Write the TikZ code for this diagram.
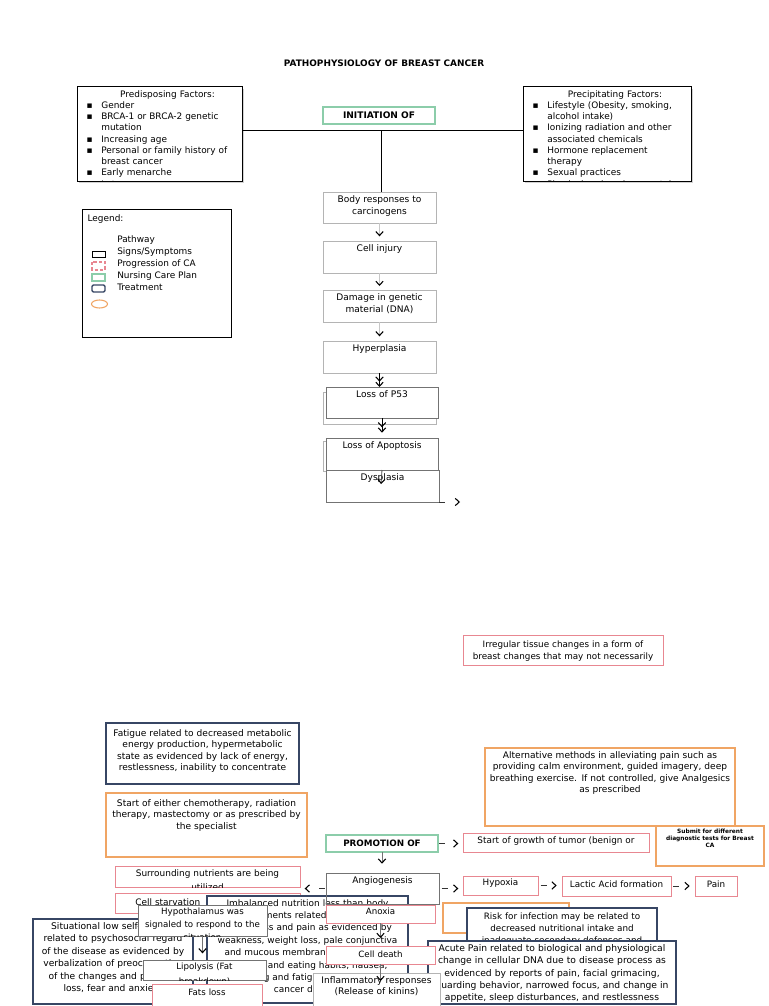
\documentclass[tikz,border=0pt]{standalone}
\usepackage{fontspec}
\setmainfont{DejaVu Sans}
\usetikzlibrary{arrows.meta}
\definecolor{boxgray}{RGB}{180,180,180}
\definecolor{dgray}{RGB}{115,115,115}
\definecolor{boxred}{RGB}{232,135,145}
\definecolor{boxgreen}{RGB}{140,205,170}
\definecolor{boxorange}{RGB}{240,165,100}
\definecolor{navy}{RGB}{55,70,100}
\definecolor{linegray}{RGB}{200,200,200}
\newcommand\fz[2]{\fontsize{#1}{#2}\selectfont}
\newcommand\bul{\hspace*{5pt}\makebox[11pt][l]{▪}}
\newcommand\ind{\hspace*{16pt}}
% box: name, style, x1, y1, x2, y2, text options, text
\newcommand\bx[8]{%
  \pgfmathsetmacro\bxW{(#5-#3)*0.75}%
  \pgfmathsetmacro\bxH{(#6-#4)*0.75}%
  \pgfmathsetmacro\bxT{(#5-#3+10)*0.75}%
  \pgfmathsetmacro\bxC{(#3+#5)/2}%
  \node[anchor=north west, minimum width=\bxW pt, minimum height=\bxH pt,
        inner sep=0pt, outer sep=0pt, #2] (#1) at (#3,#4) {};
  \begin{scope}
    \clip (#3,#4) rectangle (#5,#6);
    \node[anchor=north, inner sep=0pt, align=center, text width=\bxT pt, #7]
      (#1-t) at (\bxC,#4+3) {#8};
  \end{scope}
}
\tikzset{
  base/.style={line width=0.75pt, fill=white},
  gbox/.style={base, draw=boxgray},
  dbox/.style={base, draw=dgray},
  kbox/.style={base, draw=black},
  rbox/.style={base, draw=boxred},
  obox/.style={base, draw=boxorange, line width=1pt},
  nbox/.style={base, draw=navy, line width=1.5pt},
  grbox/.style={base, draw=boxgreen, line width=1pt},
  vtip/.style={-{Straight Barb[length=3pt,width=5.5pt,line width=0.8pt,color=black]}},
  flow/.style={draw=linegray, line width=0.6pt, vtip},
  kflow/.style={draw=black, line width=0.75pt,
    -{Straight Barb[length=3pt,width=5.5pt,line width=0.8pt] Straight Barb[length=3pt,width=5.5pt,line width=0.8pt]}},
  dflow/.style={draw=black!80, line width=0.75pt, dash pattern=on 4.5pt off 10pt, vtip},
}
\begin{document}
\begin{tikzpicture}[x=0.75pt,y=-0.75pt]
\useasboundingbox[fill=white] (0,0) rectangle (768,1006);

\node[font=\bfseries\fz{6.7}{8}] (title) at (384,63) {PATHOPHYSIOLOGY OF BREAST CANCER};

% ---------- top factors ----------
\fill[black!18] (79,89) rectangle (244,183);
\fill[black!18] (525,89) rectangle (693,183);
\bx{pre}{kbox}{77}{87}{242}{181}{font=\fz{6.7}{8.45}, align=left, xshift=6pt}{%
\hfill Predisposing Factors:\hfill\null\\
\bul Gender\\
\bul BRCA-1 or BRCA-2 genetic\\
\ind mutation\\
\bul Increasing age\\
\bul Personal or family history of\\
\ind breast cancer\\
\bul Early menarche\\
\bul Late menopause}
\bx{prec}{kbox}{523}{87}{691}{181}{font=\fz{6.7}{8.45}, align=left, xshift=6pt}{%
\hfill Precipitating Factors:\hfill\null\\
\bul Lifestyle (Obesity, smoking,\\
\ind alcohol intake)\\
\bul Ionizing radiation and other\\
\ind associated chemicals\\
\bul Hormone replacement\\
\ind therapy\\
\bul Sexual practices\\
\bul Physical and environmental}
\bx{init}{grbox}{323}{107}{435}{124}{font=\bfseries\fz{6.8}{8}, yshift=-1.5pt}{INITIATION OF}
\coordinate (j) at (381,130);
\draw[line width=0.75pt] (pre.east |- j) -- (prec.west |- j);

% ---------- legend ----------
\bx{legend}{kbox}{82}{209}{231}{337}{font=\fz{6.7}{9}, align=left, xshift=6pt, yshift=-2pt}{\hspace*{2pt}Legend:}
\node[anchor=north west, align=left, font=\fz{6.7}{9}, inner sep=0pt] (legtxt) at (117,235.5)
  {Pathway\\Signs/Symptoms\\Progression of CA\\Nursing Care Plan\\Treatment};
\draw[black, line width=0.6pt] (92,251) rectangle (105,257);
\draw[boxred, line width=0.8pt, dash pattern=on 2.5pt off 1.5pt] (92,262) rectangle (105,270);
\draw[boxgreen, line width=0.8pt] (92,274) rectangle (105,281);
\draw[navy, line width=1.1pt, rounded corners=1pt] (92,285) rectangle (105,292);
\draw[boxorange, line width=0.8pt] (99.5,304) ellipse (8 and 4);

% ---------- initiation chain ----------
\bx{body}{gbox}{323}{192}{436}{223}{font=\fz{6.8}{9.6}}{Body responses to\\carcinogens}
\bx{inj}{gbox}{323}{241}{436}{273}{font=\fz{6.8}{9.6}}{Cell injury}
\bx{dna}{gbox}{323}{290}{436}{322}{font=\fz{6.8}{9.2}}{Damage in genetic\\material (DNA)}
\bx{hyp}{gbox}{323}{341}{436}{373}{font=\fz{6.8}{9.2}}{Hyperplasia}
\bx{p53b}{gbox}{323}{392}{436}{424}{}{}
\bx{p53}{dbox}{326}{387}{438}{418}{font=\fz{6.8}{9.2}}{Loss of P53}
\bx{apob}{gbox}{323}{441}{436}{471}{}{}
\bx{apo}{dbox}{326}{438}{438}{470}{font=\fz{6.8}{9.2}}{Loss of Apoptosis}
\bx{dys}{dbox}{326}{470}{439}{502}{font=\fz{6.8}{9.2}}{Dysplasia}

\draw[line width=0.75pt] (j) -- (j |- body.north);
\draw[flow, shorten >=3.5pt] (body.south) -- (inj.north);
\draw[flow, shorten >=3pt] (inj.south) -- (dna.north);
\draw[flow, shorten >=3.5pt] (dna.south) -- (hyp.north);
\draw[kflow] (hyp.south) -- (hyp.south |- p53.north);
\draw[kflow, shorten >=4pt] (p53.south) -- (p53.south |- apo.north);
\coordinate (dysin) at (381,484);
\draw[flow, draw=black!70] (apo.south) -- (dysin);
\coordinate (dysout) at (460,502);
\draw[dflow] (dys.south east) -- (dysout);

% ---------- promotion area ----------
\bx{irr}{rbox}{463}{635}{663}{665}{font=\fz{6.6}{8.8}, yshift=-2pt}{Irregular tissue changes in a form of\\breast changes that may not necessarily}
\bx{fat}{nbox}{106}{723}{299}{784}{font=\fz{6.8}{8.6}, yshift=-2.5pt}{Fatigue related to decreased metabolic\\energy production, hypermetabolic\\state as evidenced by lack of energy,\\restlessness, inability to concentrate}
\bx{chemo}{obox}{106}{793}{307}{857}{font=\fz{6.8}{8.6}, yshift=-2.5pt}{Start of either chemotherapy, radiation\\therapy, mastectomy or as prescribed by\\the specialist}
\bx{alt}{obox}{485}{748}{735}{826}{font=\fz{6.8}{8.6}}{Alternative methods in alleviating pain such as\\providing calm environment, guided imagery, deep\\breathing exercise. If not controlled, give Analgesics\\as prescribed}
\bx{submit}{obox}{656}{826}{764}{866}{font=\bfseries\fz{4.4}{5.2}}{Submit for different\\diagnostic tests for Breast\\CA}

\bx{prom}{grbox}{326}{835}{438}{852}{font=\bfseries\fz{6.6}{8}, yshift=-1.5pt}{PROMOTION OF}
\bx{growth}{rbox}{463}{833}{649}{852}{font=\fz{6.65}{8}}{Start of growth of tumor (benign or}
\bx{hypox}{rbox}{463}{876}{538}{895}{font=\fz{6.6}{8}}{Hypoxia}
\bx{lactic}{rbox}{562}{876}{671}{896}{font=\fz{6.6}{8}, yshift=-1pt}{Lactic Acid formation}
\bx{pain}{rbox}{695}{876}{737}{896}{font=\fz{6.6}{8}, yshift=-1pt}{Pain}
\bx{surr}{rbox}{115}{866}{300}{887}{font=\fz{6.7}{11}}{Surrounding nutrients are being\\utilized}
\bx{starv}{rbox}{115}{893}{300}{913}{font=\fz{6.7}{9}, align=left, xshift=6pt, yshift=-2pt}{\hspace*{13pt}Cell starvation}
\bx{orb}{obox}{443}{903}{569}{933}{}{}
\bx{risk}{nbox}{467}{908}{657}{960}{font=\fz{6.6}{9}, yshift=-1pt}{Risk for infection may be related to\\decreased nutritional intake and\\inadequate secondary defenses and\\immunosuppression}
\bx{acute}{nbox}{428}{941}{676}{1004}{font=\fz{6.9}{9.3}}{Acute Pain related to biological and physiological\\change in cellular DNA due to disease process as\\evidenced by reports of pain, facial grimacing,\\guarding behavior, narrowed focus, and change in\\appetite, sleep disturbances, and restlessness}
\bx{imb}{nbox}{207}{896}{408}{1003}{font=\fz{6.7}{9.3}}{Imbalanced nutrition less than body\\requirements related to anorexia,\\weight loss and pain as evidenced by\\weakness, weight loss, pale conjunctiva\\and mucous membranes, changes in\\appetite and eating habits, nausea,\\vomiting and fatigue secondary to\\cancer disease}
\bx{ang}{dbox, fill=none}{326}{873}{439}{904}{font=\fz{6.8}{8}}{Angiogenesis}
\bx{sit}{nbox}{33}{919}{193}{1004}{font=\fz{6.85}{9.4}}{Situational low self-esteem\\related to psychosocial regard\\of the disease as evidenced by\\verbalization of preoccupation\\of the changes and physical\\loss, fear and anxiety}
\bx{hypo}{dbox}{138}{905}{267}{936}{font=\fz{6.5}{9.6}}{Hypothalamus was\\signaled to respond to the\\situation}
\bx{lipo}{dbox}{143}{960}{266}{980}{font=\fz{6.5}{11}}{Lipolysis (Fat\\breakdown)}
\bx{fats}{rbox}{152}{984}{262}{1012}{font=\fz{6.5}{9}, yshift=-1.5pt}{Fats loss}
\bx{anox}{rbox}{326}{905}{435}{923}{font=\fz{6.5}{9}}{Anoxia}
\bx{cdeath}{rbox}{326}{946}{435}{964}{font=\fz{6.5}{9}, yshift=-1pt}{Cell death}
\bx{infl}{gbox}{313}{973}{440}{1012}{font=\fz{6.8}{8.8}}{Inflammatory responses\\(Release of kinins)}

% ---------- connectors (promotion) ----------
\draw[flow, draw=dgray, shorten >=7pt] (prom.south) -- (prom.south |- ang.north);
\draw[dflow, shorten <=1pt, shorten >=3.5pt] (prom.east) -- (prom.east -| growth.west);
\draw[dflow, shorten <=2pt, shorten >=3.5pt] (ang.east) -- (ang.east -| hypox.west);
\draw[dflow, shorten <=2pt, shorten >=4pt] (hypox.east) -- (hypox.east -| lactic.west);
\draw[dflow, shorten <=1.5pt, shorten >=4pt] (lactic.east) -- (lactic.east -| pain.west);
\draw[dflow, shorten <=1pt, shorten >=3.5pt] (ang.west) -- (ang.west -| surr.east);
\draw[flow, draw=dgray, shorten >=5pt] (hypo.south) -- (hypo.south |- lipo.north);
\draw[flow, draw=dgray, shorten >=6pt] (anox.south) -- (anox.south |- cdeath.north);
\coordinate (inflin) at (380.5,981);
\draw[flow, draw=dgray] (cdeath.south) -- (inflin);
\end{tikzpicture}
\end{document}
